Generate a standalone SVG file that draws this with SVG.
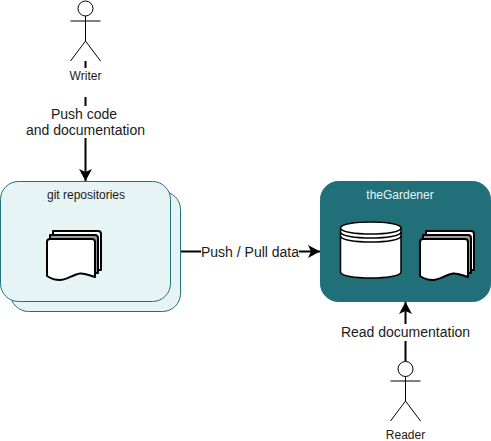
<svg xmlns="http://www.w3.org/2000/svg" width="491" height="441" viewBox="0 0 491 441">
<defs>
<marker id="arrow" markerUnits="userSpaceOnUse" markerWidth="14" markerHeight="14" refX="12" refY="6.5" orient="auto"><path d="M0 0 L12 6.5 L0 13 L3 6.5 Z" fill="#000"/></marker>
<g id="docs">
<path class="doc" d="M6 0 H51 Q54 0 54 3 V39 L6 39 Z" fill="#fff"/>
<path class="doc" d="M3 4 H48 Q51 4 51 7 V42 L3 42 Z" fill="#999"/>
<path class="doc" d="M3 0 H45 Q48 0 48 3 V38 C41 36 38 34 33 34.500 C26 35.500 20 41 13 41 C7 41 3 39 0 37 V3 Q0 0 3 0 Z" transform="translate(0 8)" fill="#fff"/>
</g>
</defs>
<style>
text{font-family:"Liberation Sans",Arial,sans-serif;text-anchor:middle}
.small{font-size:12px;fill:#1a1a1a}
.label{font-size:14px;fill:#1a1a1a}
.actor{fill:none;stroke:#000;stroke-width:1}
.conn{fill:none;stroke:#000;stroke-width:2;marker-end:url(#arrow)}
.doc{stroke:#000;stroke-width:2;stroke-linejoin:round}
.box{fill:#e6f4f5;stroke:#21707a;stroke-width:1}
.labelbg{fill:#fff}
</style>
<g id="connectors">
<path class="conn" d="M85.5 61 V181"/>
<path class="conn" d="M181 251.500 H320"/>
<path class="conn" d="M405.500 361 V302"/>
</g>
<g id="writer">
<rect class="labelbg" x="60" y="68" width="52" height="29"/>
<circle class="actor" cx="85.500" cy="8.500" r="7.500" fill="#fff"/>
<path class="actor" d="M85.500 16 V41 M70.500 21 H100.500 M70.500 61 L85.500 41 L100.500 61"/>
<text class="small" x="85.500" y="80">Writer</text>
</g>
<g id="push-code-label">
<rect class="labelbg" x="25" y="106" width="121" height="32"/>
<text class="label" x="84" y="119">Push code</text>
<text class="label" x="85.500" y="135">and documentation</text>
</g>
<g id="git-repositories">
<rect class="box" x="10.500" y="191.500" width="170" height="120" rx="18"/>
<rect class="box" x="0.500" y="181.500" width="170" height="120" rx="18"/>
<text class="small" x="86" y="199">git repositories</text>
<use href="#docs" transform="translate(47 231)"/>
</g>
<g id="push-pull-label">
<rect class="labelbg" x="201" y="243" width="98" height="17"/>
<text class="label" x="250" y="257">Push / Pull data</text>
</g>
<g id="thegardener">
<rect x="320.500" y="181.500" width="170" height="120" rx="18" fill="#216f79" stroke="#21707a"/>
<text class="small" x="400" y="199" style="fill:#e6f4f5">theGardener</text>
<path class="doc" d="M340.500 228 C340.500 220 401 220 401 228 V272 C401 280 340.500 280 340.500 272 Z" fill="#fff" style="stroke-width:1.500"/>
<path d="M340.500 228 C340.500 236 401 236 401 228 M340.500 232 C340.500 240 401 240 401 232 M340.500 236 C340.500 244 401 244 401 236" fill="none" stroke="#000" stroke-width="1.500"/>
<use href="#docs" transform="translate(420 231)"/>
</g>
<g id="read-label">
<rect class="labelbg" x="340" y="324" width="131" height="17"/>
<text class="label" x="405.500" y="337">Read documentation</text>
</g>
<g id="reader">
<circle class="actor" cx="405.500" cy="369" r="7.500" style="fill:#fff"/>
<path class="actor" d="M405.500 376.500 V401 M390.500 381 H420.500 M390.500 421 L405.500 401 L420.500 421"/>
<text class="small" x="405.500" y="439">Reader</text>
</g>
</svg>
